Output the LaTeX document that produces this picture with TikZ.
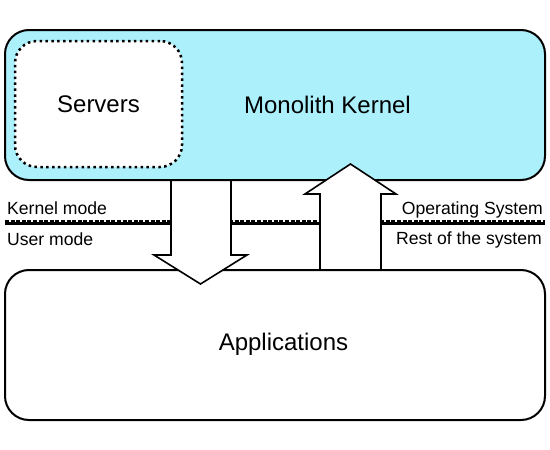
\documentclass[tikz,border=0pt]{standalone}
\usepackage{fontspec}
\setmainfont{Liberation Sans}
\usetikzlibrary{calc}
\definecolor{kernelcyan}{RGB}{172,240,252}
\begin{document}
\begin{tikzpicture}[x=1pt,y=-1pt,
  box/.style={draw=black,line width=2pt,rounded corners=24pt,inner sep=0pt},
  srvbox/.style={draw=black,fill=white,line width=2.5pt,rounded corners=22pt,
     dash pattern=on 2.5pt off 3.4pt,inner sep=0pt},
  bigtxt/.style={font=\fontsize{24}{28}\selectfont,inner sep=0pt},
  smalltxt/.style={font=\fontsize{17.6}{20}\selectfont,inner sep=0pt},
  blockarrow/.style={draw=black,line width=1.6pt,line join=miter},
  arrowfill/.style={fill=white,draw=none}]
\useasboundingbox (0,0) rectangle (550,450);
% kernel box
\node[box,fill=kernelcyan,minimum width=540pt,minimum height=150pt] (kernel) at (275,105) {};
\node[srvbox,minimum width=167pt,minimum height=126pt,bigtxt] (servers) at (98.5,104) {Servers};
\node[bigtxt] (kname) at (327.5,105) {Monolith Kernel};
% separator
\coordinate (sepL) at (5,223.5);
\coordinate (sepR) at (545,223.5);
\draw[line width=2.6pt] (sepL) -- (sepR);
\draw[line width=2pt,dash pattern=on 4pt off 1.6pt] ($(sepL)+(0,-2.3)$) -- ($(sepR)+(0,-2.3)$);
\node[smalltxt,anchor=base west] (kmode) at (7,214) {Kernel mode};
\node[smalltxt,anchor=base west] (umode) at (7,245) {User mode};
\node[smalltxt,anchor=base east] (os) at (543,214) {Operating System};
\node[smalltxt,anchor=base east] (rest) at (542,244) {Rest of the system};
% applications
\node[box,fill=white,minimum width=540pt,minimum height=150pt] (apps) at (275,345) {};
\node[bigtxt] (appsname) at (283.5,344) {Applications};
% down arrow
\coordinate (dtop) at ($(kernel.south)+(0,1)$);
\path[arrowfill] (171,0|-dtop) -- (171,255) -- (154,255) -- (200.5,284) -- (247,255) -- (231,255) -- (231,0|-dtop) -- cycle;
\draw[blockarrow] (171,0|-kernel.south) -- (171,255) -- (154,255) -- (200.5,284) -- (247,255) -- (231,255) -- (231,0|-kernel.south);
% up arrow
\coordinate (ubot) at ($(apps.north)+(0,-1)$);
\path[arrowfill] (320,0|-ubot) -- (320,194) -- (305,194) -- (350.5,164) -- (396,194) -- (381,194) -- (381,0|-ubot) -- cycle;
\draw[blockarrow] (320,0|-apps.north) -- (320,194) -- (305,194) -- (350.5,164) -- (396,194) -- (381,194) -- (381,0|-apps.north);
\end{tikzpicture}
\end{document}
